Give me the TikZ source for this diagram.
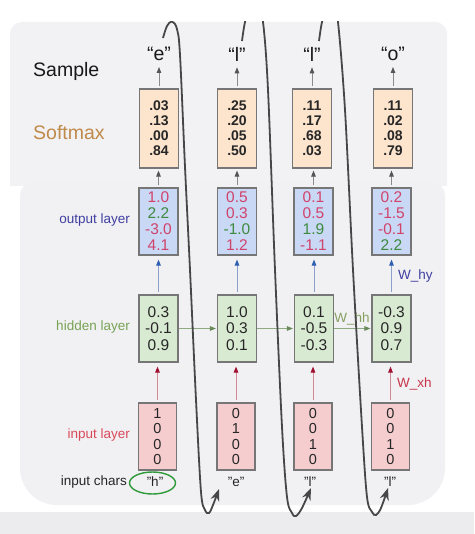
\documentclass[tikz,border=0pt]{standalone}
\usepackage{fontspec}
\setmainfont{Liberation Sans}
\usetikzlibrary{arrows.meta}
\definecolor{bgA}{HTML}{F2F1F4}
\definecolor{bgB}{HTML}{F1F0F3}
\definecolor{band}{HTML}{ECECEE}
\definecolor{boxline}{HTML}{767676}
\definecolor{smfill}{HTML}{FCE4CD}
\definecolor{outfill}{HTML}{C9D8F5}
\definecolor{hidfill}{HTML}{D9EAD3}
\definecolor{infill}{HTML}{F6CDCF}
\definecolor{softc}{HTML}{BF8A4A}
\definecolor{outc}{HTML}{3F3FA0}
\definecolor{hidc}{HTML}{77A356}
\definecolor{inc}{HTML}{D84A5A}
\definecolor{rnum}{HTML}{D0436B}
\definecolor{gnum}{HTML}{3E8A3E}
\definecolor{whh}{HTML}{86A060}
\definecolor{wxh}{HTML}{C8344A}
\definecolor{linegray}{HTML}{8A8A8A}
\definecolor{tipgray}{HTML}{555555}
\definecolor{lineblue}{HTML}{8DA0CC}
\definecolor{tipblue}{HTML}{2F5FB0}
\definecolor{linered}{HTML}{D08A92}
\definecolor{tipred}{HTML}{A01030}
\definecolor{linegreen}{HTML}{8FAA80}
\definecolor{tipgreen}{HTML}{6A8A5A}
\definecolor{loopc}{HTML}{474747}
\definecolor{circ}{HTML}{2E9A3A}
\begin{document}
\begin{tikzpicture}[x=1pt,y=-1pt,
  numbox/.style={draw=boxline, line width=1.1pt, minimum width=39pt, inner sep=0pt, align=center,
    font=\fontsize{15.5}{16}\selectfont, text=black!85},
  smbox/.style={numbox, fill=smfill, minimum height=79pt, font=\fontsize{14}{15}\selectfont\bfseries},
  outbox/.style={numbox, fill=outfill, minimum height=67pt},
  hidbox/.style={numbox, fill=hidfill, minimum height=67pt, font=\fontsize{15.5}{16.5}\selectfont},
  inbox/.style={numbox, fill=infill, minimum height=67pt, minimum width=38pt, font=\fontsize{14.5}{15.3}\selectfont},
  samplelbl/.style={font=\fontsize{19.5}{20}\selectfont, text=black!90, inner sep=1pt},
  charlbl/.style={font=\fontsize{13.5}{14}\selectfont, text=black!85, inner sep=1pt},
  rowlbl/.style={font=\fontsize{13.5}{14}\selectfont, inner sep=0pt, anchor=east},
  biglbl/.style={font=\fontsize{19.5}{20}\selectfont, inner sep=0pt, anchor=west},
  grayarrow/.style={draw=linegray, line width=1pt, -{Triangle[length=6pt,width=4.5pt,color=tipgray]}},
  bluearrow/.style={draw=lineblue, line width=1pt, -{Triangle[length=6pt,width=4.5pt,color=tipblue]}},
  redarrow/.style={draw=linered, line width=1pt, -{Triangle[length=6pt,width=4.5pt,color=tipred]}},
  greenarrow/.style={draw=linegreen, line width=1pt, -{Triangle[length=6pt,width=4.5pt,color=tipgreen]}},
  loopline/.style={draw=loopc, line width=1.8pt, -{Stealth[length=12pt,width=9pt]}},
  wlbl/.style={font=\fontsize{13.5}{14}\selectfont, inner sep=0pt}
]
\useasboundingbox (0,0) rectangle (474,534);
% background
\fill[white] (0,0) rectangle (474,534);
\fill[band] (0,512) rectangle (474,534);
\fill[bgA] (10,186) -- (10,34) arc[start angle=180, end angle=270, radius=12] -- (435,22)
  arc[start angle=270, end angle=360, radius=12] -- (447,186) -- cycle;
\fill[bgB] (20,300) [rounded corners=12pt] -- (20,183) -- (445,183) [rounded corners=37pt] -- (445,505) -- (20,505) -- cycle;

% left labels
\node[biglbl, text=black!90] (lsample) at (33,71) {Sample};
\node[biglbl, text=softc] (lsoft) at (33,133) {Softmax};
\node[rowlbl, text=outc] (lout) at (130,220) {output layer};
\node[rowlbl, text=hidc] (lhid) at (130,327) {hidden layer};
\node[rowlbl, text=inc] (lin) at (130,435) {input layer};
\node[rowlbl, text=black!85] (lchars) at (127,482) {input chars};

% column 1
\node[samplelbl] (s1) at (159,54) {“e”};
\node[smbox] (p1) at (159,128.5) {.03\\.13\\.00\\.84};
\node[outbox] (o1) at (158.5,221.5) {\textcolor{rnum}{1.0}\\\textcolor{gnum}{2.2}\\\textcolor{rnum}{-3.0}\\\textcolor{rnum}{4.1}};
\node[hidbox] (h1) at (158.5,328.5) {0.3\\-0.1\\0.9};
\node[inbox] (x1) at (157.5,436.5) {1\\0\\0\\0};
\node[charlbl] (c1) at (155,482) {"h"};

% column 2
\node[samplelbl] (s2) at (237,54) {“l”};
\node[smbox] (p2) at (237,128.5) {.25\\.20\\.05\\.50};
\node[outbox] (o2) at (237,221.5) {\textcolor{rnum}{0.5}\\\textcolor{rnum}{0.3}\\\textcolor{gnum}{-1.0}\\\textcolor{rnum}{1.2}};
\node[hidbox] (h2) at (237,328.5) {1.0\\0.3\\0.1};
\node[inbox] (x2) at (236,436.5) {0\\1\\0\\0};
\node[charlbl] (c2) at (236,482) {"e"};

% column 3
\node[samplelbl] (s3) at (312,54) {“l”};
\node[smbox] (p3) at (312,128.5) {.11\\.17\\.68\\.03};
\node[outbox] (o3) at (313.5,221.5) {\textcolor{rnum}{0.1}\\\textcolor{rnum}{0.5}\\\textcolor{gnum}{1.9}\\\textcolor{rnum}{-1.1}};
\node[hidbox] (h3) at (314,328.5) {0.1\\-0.5\\-0.3};
\node[inbox] (x3) at (313,436.5) {0\\0\\1\\0};
\node[charlbl] (c3) at (310,482) {"l"};

% column 4
\node[samplelbl] (s4) at (393,54) {“o”};
\node[smbox] (p4) at (393,128.5) {.11\\.02\\.08\\.79};
\node[outbox] (o4) at (391.5,221.5) {\textcolor{rnum}{0.2}\\\textcolor{rnum}{-1.5}\\\textcolor{rnum}{-0.1}\\\textcolor{gnum}{2.2}};
\node[hidbox] (h4) at (391.5,328.5) {-0.3\\0.9\\0.7};
\node[inbox] (x4) at (390.5,436.5) {0\\0\\1\\0};
\node[charlbl] (c4) at (390,482) {"l"};

% vertical arrows
\foreach \i in {1,2,3,4}{
  \draw[grayarrow, shorten <=2pt, shorten >=5pt] (p\i.north) -- (p\i.north |- s\i.south);
  \draw[grayarrow, shorten <=2pt, shorten >=2pt] (o\i.north) -- (o\i.north |- p\i.south);
  \draw[bluearrow, shorten <=2pt, shorten >=4pt] (h\i.north) -- (h\i.north |- o\i.south);
  \draw[redarrow, shorten <=2pt, shorten >=4pt] (x\i.north) -- (x\i.north |- h\i.south);
}
% recurrent arrows
\draw[greenarrow, shorten >=1pt] (h1.east) -- (h2.west);
\draw[greenarrow, shorten >=1pt] (h2.east) -- (h3.west);
\draw[greenarrow, shorten >=1pt] (h3.east) -- (h4.west);

% weight labels
\node[wlbl, text=whh] (lwhh) at (352,319) {W\_hh};
\node[wlbl, text=outc, anchor=west] (lwhy) at (398,276) {W\_hy};
\node[wlbl, text=wxh, anchor=west] (lwxh) at (397,384) {W\_xh};

% green hand-drawn circle around "h"
\draw[circ, line width=1.4pt] (152.5,483) ellipse [x radius=23, y radius=11];

% feedback loops
\coordinate (l1s) at (163,38);
\coordinate (l1e) at (219,489);
\coordinate (l2s) at (242,41);
\coordinate (l2e) at (311,488);
\coordinate (l3s) at (319,41);
\coordinate (l3e) at (388,488);
\begin{scope}
\clip (0,21.5) rectangle (474,534);
\draw[loopline] plot[smooth, tension=0.55] coordinates {(l1s) (167,26) (172,21.5) (177,29) (180,55) (185,167) (190,270) (196,400) (201,492) (205,510) (209,513) (213,505) (l1e)};
\draw[loopline] plot[smooth, tension=0.55] coordinates {(l2s) (245,22) (250,8) (258,6) (263,22) (268,90) (275,270) (282,427) (287,497) (292,513) (296,516) (302,508) (l2e)};
\draw[loopline] plot[smooth, tension=0.55] coordinates {(l3s) (322,22) (327,8) (334,8) (338,22) (345,110) (353,270) (362,427) (367,497) (372,512) (376,515) (381,508) (l3e)};
\end{scope}
\end{tikzpicture}
\end{document}
